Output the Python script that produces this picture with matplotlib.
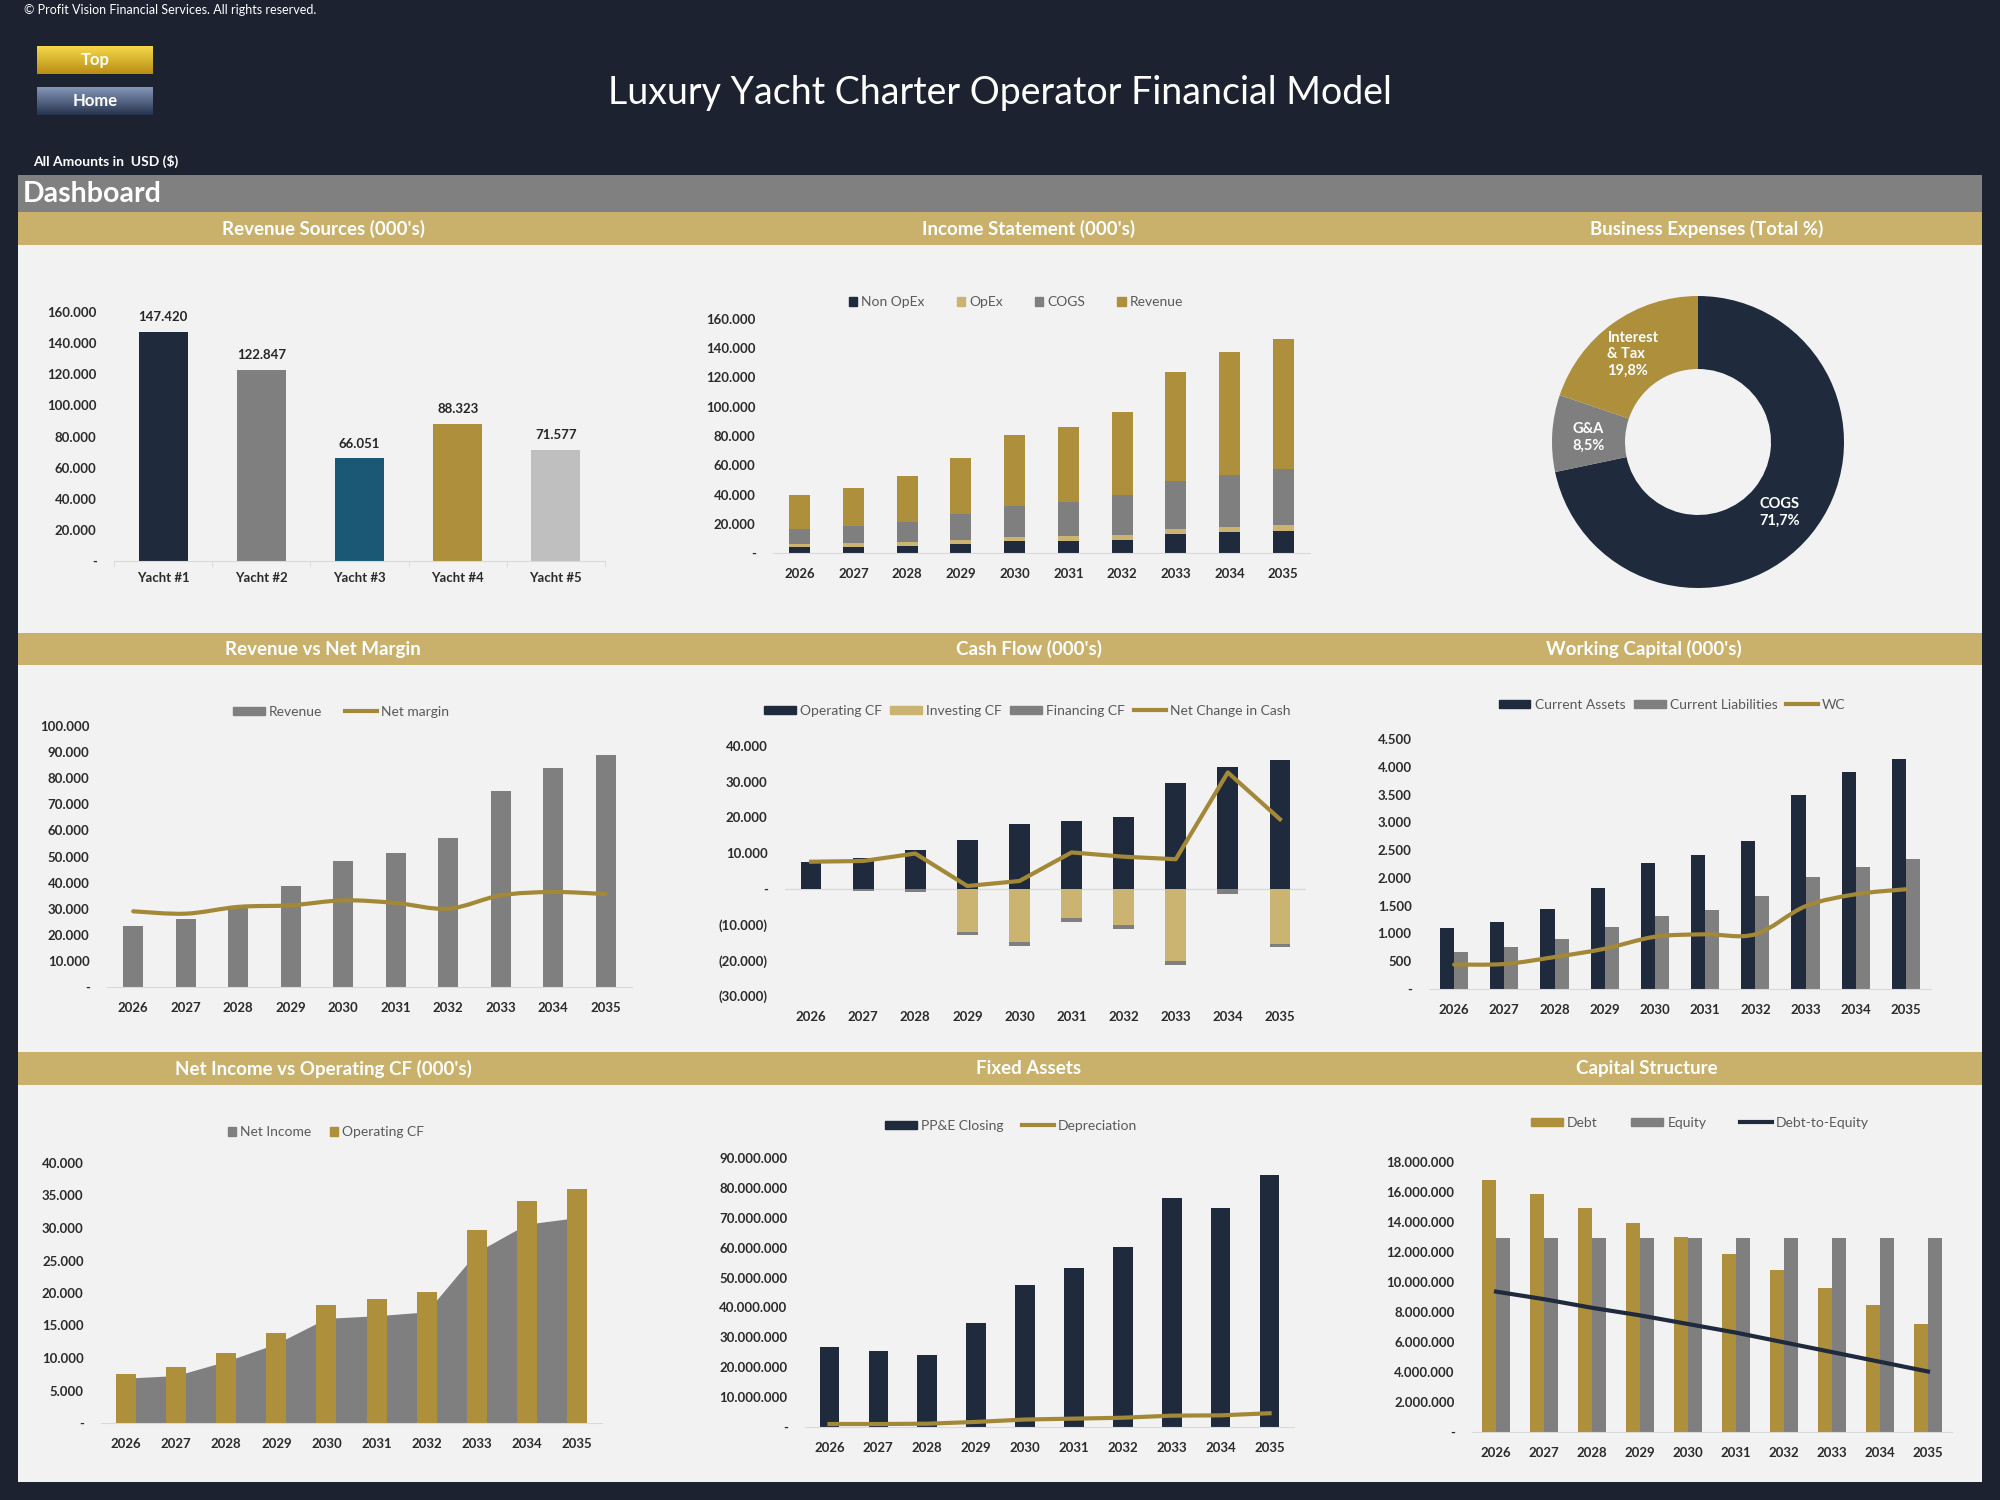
import numpy as np
import matplotlib
matplotlib.use("Agg")
import matplotlib.pyplot as plt
from matplotlib.patches import Rectangle, PathPatch, Patch
from matplotlib.path import Path
from matplotlib.lines import Line2D
from matplotlib.colors import LinearSegmentedColormap

plt.rcParams["font.family"] = ["Lato", "DejaVu Sans"]

# ---------------- data ----------------
years = ["2026", "2027", "2028", "2029", "2030", "2031", "2032", "2033", "2034", "2035"]

yachts = ["Yacht #1", "Yacht #2", "Yacht #3", "Yacht #4", "Yacht #5"]
yacht_revenue = [147420, 122847, 66051, 88323, 71577]

is_non_opex = [3900, 3900, 4600, 6200, 8000, 8400, 9100, 13000, 14100, 15300]
is_opex = [2300, 2900, 2900, 2900, 3200, 3400, 3200, 3400, 3900, 3800]
is_cogs = [10400, 11400, 13700, 17300, 21100, 22800, 27100, 32600, 35100, 38300]
revenue = [23300, 26000, 31200, 38700, 48300, 51500, 57200, 75000, 84000, 88800]

expense_labels = ["COGS", "G&A", "Interest\n& Tax"]
expense_share = [71.7, 8.5, 19.8]

net_margin = [29000, 28100, 30700, 31300, 33200, 32200, 30000, 35100, 36400, 35600]

op_cf = [7600, 8600, 10800, 13800, 18200, 19100, 20200, 29700, 34100, 36000]
inv_cf = [0, 0, 0, -12100, -15000, -8100, -10100, -20100, 0, -15400]
fin_cf = [0, -600, -800, -900, -900, -1100, -1000, -1200, -1500, -1000]
net_cash = [7600, 7800, 9900, 800, 2200, 10200, 9000, 8300, 32600, 19500]

cur_assets = [1100, 1200, 1440, 1810, 2260, 2410, 2660, 3490, 3900, 4140]
cur_liab = [665, 755, 895, 1115, 1320, 1415, 1670, 2025, 2205, 2335]
work_cap = [440, 450, 575, 725, 940, 985, 985, 1490, 1705, 1795]

net_income = [6900, 7300, 9500, 12200, 16100, 16500, 17100, 26300, 30600, 31600]

ppe_closing = [26800000, 25400000, 24200000, 34800000, 47500000,
               53200000, 60200000, 76700000, 73400000, 84200000]
depreciation = [1000000, 1000000, 1100000, 1700000, 2500000,
                2800000, 3100000, 3800000, 3900000, 4600000]

debt = [16800000, 15900000, 14950000, 13950000, 13000000,
        11850000, 10800000, 9600000, 8450000, 7200000]
equity = [12950000, 12950000, 12950000, 12950000, 12950000,
          12950000, 12950000, 12950000, 12950000, 12950000]
debt_to_equity = [1.30, 1.23, 1.15, 1.08, 1.00, 0.92, 0.83, 0.74, 0.65, 0.56]

# ---------------- style ----------------
DARK = "#1c2230"
PANEL = "#f2f2f2"
HEADER = "#c9b06b"
BAR_GREY = "#808080"
NAVY = "#1f2a3d"
GREY = "#7f7f7f"
GOLD = "#ad8f3c"
LIGHT_GOLD = "#cbb472"
TEAL = "#1a5876"
LIGHT_GREY = "#bfbfbf"
LINE_GOLD = "#a38838"
TICK = "#2b2b2b"
LEGEND_TXT = "#595959"

W, H = 2000, 1500
fig = plt.figure(figsize=(20, 15), dpi=100)
fig.patch.set_facecolor(DARK)


def fx(x):
    return x / W


def fy(y):
    return 1 - y / H


def box(x0, y0, x1, y1, color, z=-5):
    fig.add_artist(Rectangle((fx(x0), fy(y1)), (x1 - x0) / W, (y1 - y0) / H,
                             transform=fig.transFigure, facecolor=color,
                             edgecolor="none", zorder=z))


def fmt_num(v):
    if v == 0:
        return "-"
    s = f"{abs(v):,.0f}".replace(",", ".")
    return f"({s})" if v < 0 else s


def add_ax(x0, x1, ytop, ybot):
    ax = fig.add_axes([fx(x0), fy(ybot), (x1 - x0) / W, (ybot - ytop) / H])
    ax.set_facecolor("none")
    for s in ["top", "right", "left"]:
        ax.spines[s].set_visible(False)
    ax.spines["bottom"].set_color("#d9d9d9")
    ax.tick_params(length=0, labelsize=9.5, labelcolor=TICK)
    ax.tick_params(axis="y", pad=12.5)
    ax.tick_params(axis="x", pad=10.5)
    return ax


def set_y(ax, ticks):
    ax.set_ylim(ticks[0], ticks[-1])
    ax.set_yticks(ticks, [fmt_num(t) for t in ticks], fontweight="bold")


def set_years(ax):
    ax.set_xlim(-0.5, 9.5)
    ax.set_xticks(np.arange(len(years)), years, fontweight="bold")


def smooth_line(ax, xs, ys, color, lw, z=4):
    xs = np.asarray(xs, float)
    ys = np.asarray(ys, float)
    n = len(xs)
    verts = [(xs[0], ys[0])]
    codes = [Path.MOVETO]
    for i in range(n - 1):
        p0 = np.array([xs[max(i - 1, 0)], ys[max(i - 1, 0)]])
        p1 = np.array([xs[i], ys[i]])
        p2 = np.array([xs[i + 1], ys[i + 1]])
        p3 = np.array([xs[min(i + 2, n - 1)], ys[min(i + 2, n - 1)]])
        c1 = p1 + (p2 - p0) / 6
        c2 = p2 - (p3 - p1) / 6
        verts += [tuple(c1), tuple(c2), tuple(p2)]
        codes += [Path.CURVE4] * 3
    ax.add_patch(PathPatch(Path(verts, codes), fill=False, edgecolor=color,
                           lw=lw, capstyle="round", joinstyle="round", zorder=z))


def legend(handles, labels, cx, cy, colsp, square=False):
    fig.legend(handles, labels, loc="center", bbox_to_anchor=(fx(cx), fy(cy)),
               ncol=len(handles), frameon=False, fontsize=10,
               labelcolor=LEGEND_TXT, columnspacing=colsp, handletextpad=0.3,
               handlelength=0.6 if square else 2.3,
               handleheight=0.6 if square else 0.55)


def button(x0, y0, x1, y1, c_top, c_bot, text):
    ax = fig.add_axes([fx(x0), fy(y1), (x1 - x0) / W, (y1 - y0) / H])
    cmap = LinearSegmentedColormap.from_list("btn", [c_top, c_bot])
    ax.imshow(np.linspace(0, 1, 60)[:, None], aspect="auto", cmap=cmap,
              extent=[0, 1, 0, 1])
    ax.text(0.5, 0.5, text, ha="center", va="center", color="white",
            fontsize=12, fontweight="bold")
    ax.axis("off")


x = np.arange(len(years))

# ---------------- page frame ----------------
fig.text(fx(24), fy(10), "\u00a9 Profit Vision Financial Services. All rights reserved.",
         color="white", fontsize=9, va="center")
button(37, 46, 153, 74, "#f6d84a", "#b98d14", "Top")
button(37, 87, 153, 115, "#8497b8", "#27344f", "Home")
fig.text(fx(1000), fy(93), "Luxury Yacht Charter Operator Financial Model",
         color="white", fontsize=27, ha="center", va="center")
fig.text(fx(33), fy(161), "All Amounts in  USD ($)", color="white",
         fontsize=10, fontweight="bold", va="center")

box(18, 212, 1982, 1482, PANEL, z=-6)
box(18, 175, 1982, 212, BAR_GREY)
fig.text(fx(23), fy(194), "Dashboard", color="white", fontsize=20.5,
         fontweight="bold", va="center")

rows = [(212, 245), (633, 665), (1052, 1085)]
titles = [
    [("Revenue Sources (000's)", 323), ("Income Statement (000's)", 1029),
     ("Business Expenses (Total %)", 1707)],
    [("Revenue vs Net Margin", 323), ("Cash Flow (000's)", 1029),
     ("Working Capital (000's)", 1644)],
    [("Net Income vs Operating CF (000's)", 323), ("Fixed Assets", 1029),
     ("Capital Structure", 1647)],
]
for (y0, y1), row in zip(rows, titles):
    box(18, y0, 1982, y1, HEADER)
    for t, cx in row:
        fig.text(fx(cx), fy((y0 + y1) / 2), t, color="white", fontsize=13.5,
                 fontweight="bold", ha="center", va="center")

# ---------------- Revenue Sources ----------------
ax = add_ax(114, 605, 312, 561)
xi = np.arange(len(yachts))
bars = ax.bar(xi, yacht_revenue, width=0.5,
              color=[NAVY, GREY, TEAL, GOLD, LIGHT_GREY])
for b, v in zip(bars, yacht_revenue):
    ax.annotate(fmt_num(v), (b.get_x() + b.get_width() / 2, v),
                xytext=(0, 6), textcoords="offset points", ha="center",
                va="bottom", fontsize=9.5, fontweight="bold", color="#262626")
ax.set_xlim(-0.5, 4.5)
ax.set_xticks(xi, yachts, fontweight="bold")
ax.set_xticks(np.arange(-0.5, 5.0, 1), minor=True)
ax.tick_params(axis="x", which="minor", length=4, color="#d9d9d9")
ax.tick_params(axis="x", pad=8)
set_y(ax, list(range(0, 160001, 20000)))

# ---------------- Income Statement ----------------
ax = add_ax(773, 1310, 319, 553)
bottom = np.zeros(len(years))
for vals, col in [(is_non_opex, NAVY), (is_opex, LIGHT_GOLD),
                  (is_cogs, GREY), (revenue, GOLD)]:
    ax.bar(x, vals, bottom=bottom, width=0.39, color=col)
    bottom = bottom + np.array(vals)
set_years(ax)
set_y(ax, list(range(0, 160001, 20000)))
legend([Patch(color=c) for c in [NAVY, LIGHT_GOLD, GREY, GOLD]],
       ["Non OpEx", "OpEx", "COGS", "Revenue"], 1016, 302, 2.3, square=True)

# ---------------- Business Expenses donut ----------------
ax = fig.add_axes([fx(1552), fy(588), 292 / W, 292 / H])
ax.pie(expense_share, colors=[NAVY, GREY, GOLD], startangle=90,
       counterclock=False, radius=1, wedgeprops=dict(width=0.5, edgecolor="none"))
ax.set_xlim(-1, 1)
ax.set_ylim(-1, 1)
label_pos = [(0.42, -0.48), (-0.86, 0.03), (-0.62, 0.60)]
for lab, val, (lx, ly) in zip(expense_labels, expense_share, label_pos):
    ax.text(lx, ly, f"{lab}\n{val:.1f}%".replace(".", ","), color="white",
            fontsize=10.5, fontweight="bold", ha="left", va="center",
            linespacing=1.25)

# ---------------- Revenue vs Net Margin ----------------
ax = add_ax(107, 632, 726, 987)
ax.bar(x, revenue, width=0.38, color=GREY)
smooth_line(ax, x, net_margin, LINE_GOLD, 3)
set_years(ax)
set_y(ax, list(range(0, 100001, 10000)))
legend([Patch(color=GREY), Line2D([0], [0], color=LINE_GOLD, lw=3)],
       ["Revenue", "Net margin"], 341, 712, 1.6)

# ---------------- Cash Flow ----------------
ax = add_ax(785, 1306, 746, 996)
ax.spines["bottom"].set_visible(False)
ax.axhline(0, color="#d9d9d9", lw=1, zorder=0)
ax.bar(x, op_cf, width=0.4, color=NAVY)
ax.bar(x, inv_cf, width=0.4, color=LIGHT_GOLD)
ax.bar(x, fin_cf, bottom=inv_cf, width=0.4, color=GREY)
ax.plot(x, net_cash, color=LINE_GOLD, lw=3, solid_joinstyle="round", zorder=4)
set_years(ax)
set_y(ax, list(range(-30000, 40001, 10000)))
legend([Patch(color=NAVY), Patch(color=LIGHT_GOLD), Patch(color=GREY),
        Line2D([0], [0], color=LINE_GOLD, lw=3)],
       ["Operating CF", "Investing CF", "Financing CF", "Net Change in Cash"],
       1027, 711, 0.6)

# ---------------- Working Capital ----------------
ax = add_ax(1429, 1931, 739, 989)
ax.bar(x - 0.14, cur_assets, width=0.28, color=NAVY)
ax.bar(x + 0.14, cur_liab, width=0.28, color=GREY)
smooth_line(ax, x, work_cap, LINE_GOLD, 3)
set_years(ax)
set_y(ax, list(range(0, 4501, 500)))
legend([Patch(color=NAVY), Patch(color=GREY),
        Line2D([0], [0], color=LINE_GOLD, lw=3)],
       ["Current Assets", "Current Liabilities", "WC"], 1672, 705, 0.6)

# ---------------- Net Income vs Operating CF ----------------
ax = add_ax(101, 602, 1163, 1423)
ax.fill_between(x, net_income, color=GREY, lw=0, zorder=1)
ax.bar(x, op_cf, width=0.4, color=GOLD, zorder=2)
set_years(ax)
set_y(ax, list(range(0, 40001, 5000)))
legend([Patch(color=GREY), Patch(color=GOLD)],
       ["Net Income", "Operating CF"], 326, 1132, 1.3, square=True)

# ---------------- Fixed Assets ----------------
ax = add_ax(805, 1294, 1158, 1427)
ax.bar(x, ppe_closing, width=0.4, color=NAVY)
ax.plot(x, depreciation, color=LINE_GOLD, lw=3, zorder=4)
set_years(ax)
set_y(ax, list(range(0, 90000001, 10000000)))
legend([Patch(color=NAVY), Line2D([0], [0], color=LINE_GOLD, lw=3)],
       ["PP&E Closing", "Depreciation"], 1011, 1126, 1.3)

# ---------------- Capital Structure ----------------
ax = add_ax(1472, 1952, 1162, 1432)
ax.bar(x - 0.15, debt, width=0.3, color=GOLD)
ax.bar(x + 0.15, equity, width=0.3, color=GREY)
set_years(ax)
set_y(ax, list(range(0, 18000001, 2000000)))
ax2 = ax.twinx()
ax2.set_ylim(0, 2.5)
ax2.plot(x, debt_to_equity, color=NAVY, lw=3, zorder=4)
ax2.set_axis_off()
legend([Patch(color=GOLD), Patch(color=GREY), Line2D([0], [0], color=NAVY, lw=3)],
       ["Debt", "Equity", "Debt-to-Equity"], 1700, 1123, 2.4)

fig.savefig("out.png", dpi=100, facecolor=fig.get_facecolor())
